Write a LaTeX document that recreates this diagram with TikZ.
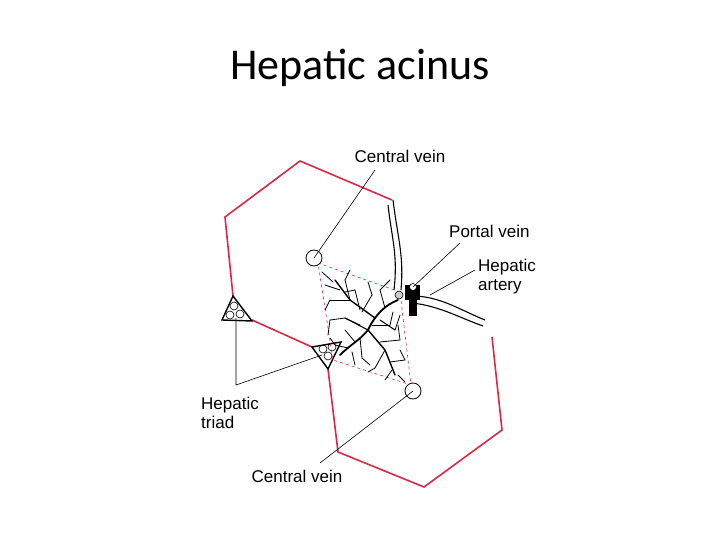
\documentclass[tikz,border=0pt]{standalone}
\usepackage{fontspec}
\setmainfont{Liberation Sans}
\newfontfamily\titlefont{Carlito}
\begin{document}
\begin{tikzpicture}[x=1pt,y=-1pt,
  hex/.style={draw={rgb,255:red,220;green,40;blue,70},line width=1.6pt,line join=miter},
  lead/.style={draw=black,line width=0.6pt},
  lbl/.style={font=\fontsize{17}{19}\selectfont,inner sep=0pt},
  vein/.style={draw=black,line width=0.8pt,fill=white},
  br/.style={draw=black,line width=0.9pt,line cap=round}]
\useasboundingbox (0,0) rectangle (720,540);
\node[font=\titlefont\fontsize{44}{48}\selectfont] (title) at (360,68) {Hepatic acinus};
% hexagons
\draw[hex] (392,200) -- (300,161) -- (225,217) -- (233,296);
\draw[hex] (252,320) -- (312,347);
\draw[hex] (328,369) -- (338,452) -- (424,487) -- (502,430) -- (492,337);
% triads
\draw[line width=1.4pt] (233,296) -- (222,320) -- (252,321) -- cycle;
\draw[line width=1.4pt] (312,347) -- (341,342) -- (328,369) -- cycle;
\foreach \p in {(234,306),(230,315),(240,314)} \draw[line width=0.6pt] \p circle (4);
\foreach \p in {(323,349),(332,347),(328,356)} \draw[line width=0.6pt] \p circle (4);
\coordinate (t1) at (236,318);
\coordinate (t2) at (322,355);
% dashed rhombus
\draw[dashed,draw={rgb,255:red,220;green,40;blue,70},line width=0.6pt] (318,263) -- (400,292) -- (411,385) -- (333,360) -- cycle;
% portal vein vessel
\draw[line width=1.1pt] (388,205) .. controls (392,240) and (398,255) .. (394,290);
\draw[line width=1.1pt] (393,200) .. controls (398,240) and (404,255) .. (401,290);
\draw[line width=1.1pt] (412,296) .. controls (440,296) and (460,310) .. (485,320);
\draw[line width=1.1pt] (412,303) .. controls (440,306) and (460,318) .. (483,326);
\fill (405,285) rectangle (420,300);
\fill (409,300) rectangle (417,316);
\draw[line width=0.6pt,fill=white] (413,287) circle (3.5);
\draw[line width=0.6pt,fill=gray!40] (399,295) circle (4);
% branching tree
\draw[br,line width=1.8pt] (398,300) .. controls (385,305) and (375,315) .. (368,330) .. controls (360,340) and (350,345) .. (340,355);
\draw[br,line width=1.4pt] (375,318) -- (350,300) -- (335,280);
\draw[br,line width=1.4pt] (368,330) -- (385,350) -- (395,375);
\foreach \a/\b in {{(350,300)}/{(330,300)},{(350,300)}/{(345,280)},{(340,290)}/{(325,285)},{(360,310)}/{(355,290)},{(362,312)}/{(372,295)},{(385,308)}/{(380,290)},{(380,342)}/{(400,340)},{(385,350)}/{(375,368)},{(390,362)}/{(405,360)},{(355,342)}/{(345,330)},{(348,348)}/{(335,345)},{(360,338)}/{(362,358)},{(392,370)}/{(385,380)},{(372,325)}/{(390,325)},{(333,282)}/{(322,272)},{(345,318)}/{(330,320)},{(345,318)}/{(360,325)},{(395,330)}/{(400,315)},{(398,375)}/{(405,382)},{(352,352)}/{(355,365)},{(330,300)}/{(325,310)},{(345,280)}/{(350,270)},{(372,295)}/{(368,282)},{(380,290)}/{(390,280)},{(400,340)}/{(398,325)},{(375,368)}/{(368,372)},{(362,358)}/{(370,365)},{(330,320)}/{(328,335)},{(355,290)}/{(345,292)},{(390,325)}/{(393,312)},{(335,345)}/{(330,338)},{(405,360)}/{(400,350)}}
  \draw[br,line width=0.8pt] \a -- \b;
\draw[br,line width=1.1pt] (368,330) -- (345,318);
\draw[br,line width=1.1pt] (380,320) -- (395,330);
% central veins
\node[vein,circle,minimum size=16pt,inner sep=0pt] (cv1) at (314,258) {};
\node[vein,circle,minimum size=16pt,inner sep=0pt] (cv2) at (413,391) {};
% labels
\node[lbl] (lcv1) at (400,156) {Central vein};
\node[lbl] (lcv2) at (297,476) {Central vein};
\node[lbl,anchor=west] (lpv) at (449,231) {Portal vein};
\node[lbl,anchor=west,align=left] (lha) at (478,277) {Hepatic\\artery};
\node[lbl,anchor=west,align=left] (lht) at (201,413) {Hepatic\\triad};
% leaders
\draw[lead] (375,170) -- (cv1.center);
\draw[lead] (320,463) -- (cv2.center);
\draw[lead] (460,243) -- (413,287);
\draw[lead] (475,270) -- (430,295);
\draw[lead] (t1) -- (236,385) -- (t2);
\end{tikzpicture}
\end{document}
